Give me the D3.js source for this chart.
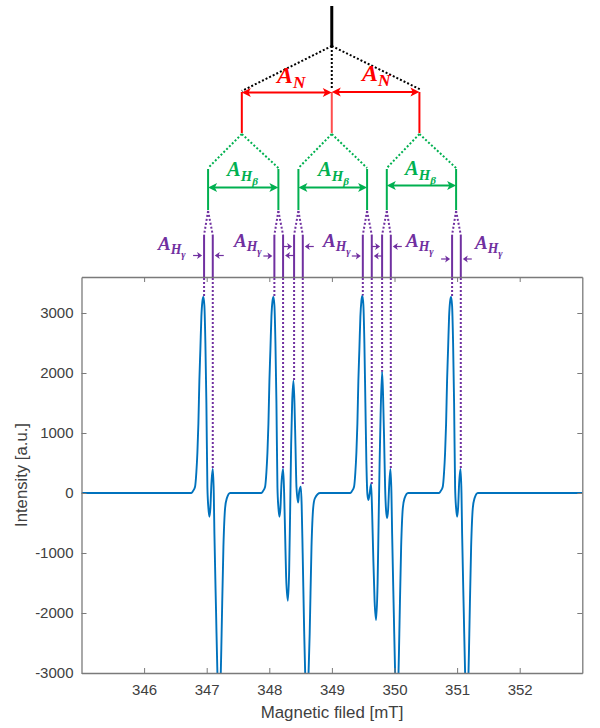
<!DOCTYPE html>
<html>
  <head>
    <meta charset="utf-8">
    <title>EPR spectrum</title>
    <style media="screen">
    body{margin: 0; background: #fff}
    svg{display: block}
    .tick text{font-family: "Liberation Sans", Arial, sans-serif; font-size: 15px; fill: #404040}
    .mathlabel{font-family: "Liberation Serif", serif; font-weight: bold; font-style: italic}
    </style>
  </head>
  <body>
    <script src="https://d3js.org/d3.v7.min.js"></script>
    <script type="text/javascript">

    // spectrum, one group per nitrogen line
    var baseField = [345, 346.755]
    var baseIntensity = [0, 0]

    var group1Field = [346.779, 346.814, 346.835, 346.851, 346.867, 346.883, 346.899, 346.915, 346.931, 346.947, 346.963, 346.979, 346.995, 347.011, 347.027, 347.043, 347.059, 347.075, 347.097, 347.113, 347.123, 347.150, 347.171, 347.198, 347.225, 347.238, 347.267, 347.294, 347.321, 347.374]
    var group1Intensity = [30, 105, 350, 667, 1150, 1880, 2400, 2940, 3190, 3267, 3120, 2500, 1500, 100, -250, -395, -250, 150, 400, 0, -670, -2000, -3000, -3450, -3000, -2350, -900, -250, -90, 0]

    var group2Field = [347.874, 347.898, 347.933, 347.954, 347.970, 347.986, 348.002, 348.018, 348.034, 348.050, 348.066, 348.082, 348.098, 348.114, 348.130, 348.146, 348.162, 348.178, 348.194, 348.221, 348.237, 348.253, 348.269, 348.296, 348.317, 348.333, 348.349, 348.365, 348.386, 348.402, 348.418, 348.434, 348.461, 348.477, 348.504, 348.517, 348.533, 348.557, 348.573, 348.600, 348.627, 348.645, 348.674, 348.701, 348.728, 348.812]
    var group2Intensity = [0, 30, 105, 350, 667, 1150, 1880, 2400, 2940, 3190, 3267, 3120, 2500, 1500, 100, -250, -395, -250, 150, 400, 0, -700, -1400, -1795, -1300, -300, 800, 1500, 1872, 1500, 800, 100, -160, 20, 105, -200, -1000, -2300, -3000, -3450, -3000, -2350, -900, -250, -90, 0]

    var group3Field = [349.295, 349.319, 349.354, 349.375, 349.391, 349.407, 349.423, 349.439, 349.455, 349.471, 349.487, 349.503, 349.519, 349.535, 349.551, 349.567, 349.583, 349.602, 349.626, 349.642, 349.658, 349.682, 349.706, 349.730, 349.746, 349.762, 349.778, 349.802, 349.818, 349.834, 349.850, 349.866, 349.882, 349.898, 349.914, 349.935, 349.951, 349.962, 349.989, 350.010, 350.037, 350.064, 350.077, 350.106, 350.133, 350.160, 350.217]
    var group3Intensity = [0, 30, 105, 350, 667, 1150, 1880, 2400, 2940, 3200, 3290, 3130, 2500, 1500, 500, -20, -117, -20, 150, -300, -950, -1800, -2117, -1500, -500, 500, 1300, 2022, 1600, 900, 100, -300, -417, -280, 100, 400, 0, -670, -2000, -3000, -3450, -3000, -2350, -900, -250, -90, 0]

    var group4Field = [350.712, 350.736, 350.771, 350.792, 350.808, 350.824, 350.840, 350.856, 350.872, 350.888, 350.904, 350.920, 350.936, 350.952, 350.968, 350.984, 351.000, 351.016, 351.032, 351.054, 351.070, 351.080, 351.107, 351.128, 351.155, 351.182, 351.195, 351.224, 351.251, 351.278, 351.331, 353]
    var group4Intensity = [0, 30, 105, 350, 667, 1150, 1880, 2400, 2940, 3190, 3267, 3120, 2500, 1500, 100, -250, -395, -250, 150, 400, 0, -670, -2000, -3000, -3450, -3000, -2350, -900, -250, -90, 0, 0]

    var xTicks = [346, 347, 348, 349, 350, 351, 352]
    var yTicks = [-3000, -2000, -1000, 0, 1000, 2000, 3000]

    // splitting tree, field positions of each level
    var nitrogenField = [347.561, 348.998, 350.398]
    var betaField = [347.022, 348.145, 348.465, 349.562, 349.877, 350.984]
    var gammaField = [346.958, 347.097, 348.081, 348.220, 348.396, 348.535, 349.494, 349.637, 349.802, 349.941, 350.920, 351.059]
    var gammaPeak = [3267, 400, 3267, 415, 1872, 150, 3290, 150, 2022, 400, 3267, 400]

    var w = 600, h = 728
    var red = '#ff0000', green = '#00b050', purple = '#7030a0'

    var svg = d3.select('body').append('svg')
      .attr('width', w)
      .attr('height', h)

    var x = d3.scaleLinear().domain([345, 353]).range([81.5, 582.3])
    var y = d3.scaleLinear().domain([-3000, 3600]).range([673, 277])

    var fields = d3.merge([baseField, group1Field, group2Field, group3Field, group4Field])
    var intensities = d3.merge([baseIntensity, group1Intensity, group2Intensity, group3Intensity, group4Intensity])
    var spectrum = fields.map(function(f, i){ return [f, intensities[i]] })

    svg.append('clipPath').attr('id', 'plot')
      .append('rect')
      .attr('x', x(345)).attr('y', y(3600))
      .attr('width', x(353) - x(345)).attr('height', y(-3000) - y(3600))

    var line = d3.line()
      .x(function(d){ return x(d[0]) })
      .y(function(d){ return y(d[1]) })
      .curve(d3.curveMonotoneX)

    svg.append('path')
      .datum(spectrum)
      .attr('clip-path', 'url(#plot)')
      .attr('fill', 'none')
      .attr('stroke', '#0072bd')
      .attr('stroke-width', 1.9)
      .attr('d', line)

    // axes, ticks point inward on all four sides
    function styleAxis(g){
      g.selectAll('path').attr('stroke', '#7a7a7a').attr('stroke-width', 1.3)
      g.selectAll('line').attr('stroke', '#7a7a7a').attr('stroke-width', 1)
    }

    svg.append('g').attr('transform', 'translate(0,' + y(-3000) + ')')
      .call(d3.axisBottom(x).tickValues(xTicks).tickSize(-5).tickSizeOuter(0).tickPadding(11.4).tickFormat(String))
      .call(styleAxis)
    svg.append('g').attr('transform', 'translate(0,' + y(3600) + ')')
      .call(d3.axisTop(x).tickValues(xTicks).tickSize(-5).tickSizeOuter(0).tickFormat(''))
      .call(styleAxis)
    svg.append('g').attr('transform', 'translate(' + x(345) + ',0)')
      .call(d3.axisLeft(y).tickValues(yTicks).tickSize(-5).tickSizeOuter(0).tickPadding(8).tickFormat(String))
      .call(styleAxis)
    svg.append('g').attr('transform', 'translate(' + x(353) + ',0)')
      .call(d3.axisRight(y).tickValues(yTicks).tickSize(-5).tickSizeOuter(0).tickFormat(''))
      .call(styleAxis)

    svg.append('text')
      .attr('x', 332).attr('y', 718)
      .attr('text-anchor', 'middle')
      .attr('font-family', '"Liberation Sans", Arial, sans-serif')
      .attr('font-size', 16.9)
      .attr('fill', '#404040')
      .text('Magnetic filed [mT]')

    svg.append('text')
      .attr('transform', 'translate(27,475) rotate(-90)')
      .attr('text-anchor', 'middle')
      .attr('font-family', '"Liberation Sans", Arial, sans-serif')
      .attr('font-size', 16.7)
      .attr('fill', '#404040')
      .text('Intensity [a.u.]')

    function seg(x1, y1, x2, y2, color, width, dash){
      svg.append('line')
        .attr('x1', x1).attr('y1', y1)
        .attr('x2', x2).attr('y2', y2)
        .attr('stroke', color)
        .attr('stroke-width', width)
        .attr('stroke-dasharray', dash || null)
    }

    // dir 1 points right, -1 points left
    function head(px, py, dir, len, half, color){
      svg.append('path')
        .attr('d', 'M' + px + ',' + py + 'L' + (px - dir * len) + ',' + (py - half) + 'L' + (px - dir * len * 0.75) + ',' + py + 'L' + (px - dir * len) + ',' + (py + half) + 'Z')
        .attr('fill', color)
    }

    function doubleArrow(x1, x2, py, color){
      seg(x1 + 3, py, x2 - 3, py, color, 2)
      head(x1, py, -1, 9, 4.5, color)
      head(x2, py, 1, 9, 4.5, color)
    }

    function inwardArrow(px, py, dir){
      seg(px - dir * 9, py, px - dir * 2, py, purple, 1.2)
      head(px, py, dir, 5, 3.5, purple)
    }

    function mathLabel(px, py, size, color, sub, subsub){
      var t = svg.append('text')
        .attr('class', 'mathlabel')
        .attr('x', px).attr('y', py)
        .attr('font-size', size)
        .attr('fill', color)
      t.append('tspan').text('A')
      t.append('tspan').attr('dy', size * 0.22).attr('font-size', size * 0.72).text(sub)
      if(subsub) t.append('tspan').attr('dy', size * 0.2).attr('font-size', size * 0.55).text(subsub)
    }

    // top of the tree
    var cx = x(nitrogenField[1])
    seg(cx, 6, cx, 46, '#000', 3)
    seg(cx, 46, x(nitrogenField[0]), 91, '#000', 2, '2 2')
    seg(cx, 46, x(nitrogenField[2]) + 2, 90, '#000', 2, '2 2')
    seg(cx, 46, cx, 90, '#000', 2, '2 2')

    // nitrogen level
    nitrogenField.forEach(function(f, i){
      seg(x(f), 92, x(f), 133, i == 1 ? '#ff4d4d' : red, 2)
    })
    doubleArrow(x(nitrogenField[0]), x(nitrogenField[1]), 92.5, red)
    doubleArrow(x(nitrogenField[1]), x(nitrogenField[2]), 92, red)
    mathLabel(277, 83, 24, red, 'N')
    mathLabel(362, 81, 24, red, 'N')

    // beta proton level
    nitrogenField.forEach(function(f, i){
      seg(x(f), 134, x(betaField[i * 2]), 168, green, 2, '2 2')
      seg(x(f), 134, x(betaField[i * 2 + 1]), 168, green, 2, '2 2')
      seg(x(betaField[i * 2]), 169, x(betaField[i * 2]), 210, green, 2)
      seg(x(betaField[i * 2 + 1]), 169, x(betaField[i * 2 + 1]), 210, green, 2)
      doubleArrow(x(betaField[i * 2]), x(betaField[i * 2 + 1]), i == 2 ? 185.5 : 187.5, green)
    })
    mathLabel(227, 176, 20.5, green, 'H', 'β')
    mathLabel(318, 176, 20.5, green, 'H', 'β')
    mathLabel(405, 175, 20.5, green, 'H', 'β')

    // gamma proton level, dotted down to the peaks
    betaField.forEach(function(f, i){
      seg(x(f), 211, x(gammaField[i * 2]), 235, purple, 2, '2 2')
      seg(x(f), 211, x(gammaField[i * 2 + 1]), 235, purple, 2, '2 2')
    })
    gammaField.forEach(function(f, i){
      seg(x(f), 235, x(f), 277, purple, 2)
      seg(x(f), 278, x(f), y(gammaPeak[i]), purple, 2, '2 2')
    })

    inwardArrow(x(gammaField[0]) - 2, 255.5, 1)
    inwardArrow(x(gammaField[1]) + 2, 255.5, -1)
    inwardArrow(x(gammaField[2]) - 2, 256, 1)
    inwardArrow(x(gammaField[3]) + 2, 255.5, -1)
    inwardArrow(x(gammaField[4]) - 2, 246.5, 1)
    inwardArrow(x(gammaField[5]) + 2, 246.5, -1)
    inwardArrow(x(gammaField[6]) - 2, 256, 1)
    inwardArrow(x(gammaField[7]) + 2, 256, -1)
    inwardArrow(x(gammaField[8]) - 2, 246.5, 1)
    inwardArrow(x(gammaField[9]) + 2, 246.5, -1)
    inwardArrow(x(gammaField[10]) - 2, 259, 1)
    inwardArrow(x(gammaField[11]) + 2, 259, -1)

    mathLabel(158, 250, 19, purple, 'H', 'γ')
    mathLabel(234, 247, 19, purple, 'H', 'γ')
    mathLabel(323, 247, 19, purple, 'H', 'γ')
    mathLabel(406, 247, 19, purple, 'H', 'γ')
    mathLabel(475, 249, 19, purple, 'H', 'γ')

    </script>
  </body>
</html>
